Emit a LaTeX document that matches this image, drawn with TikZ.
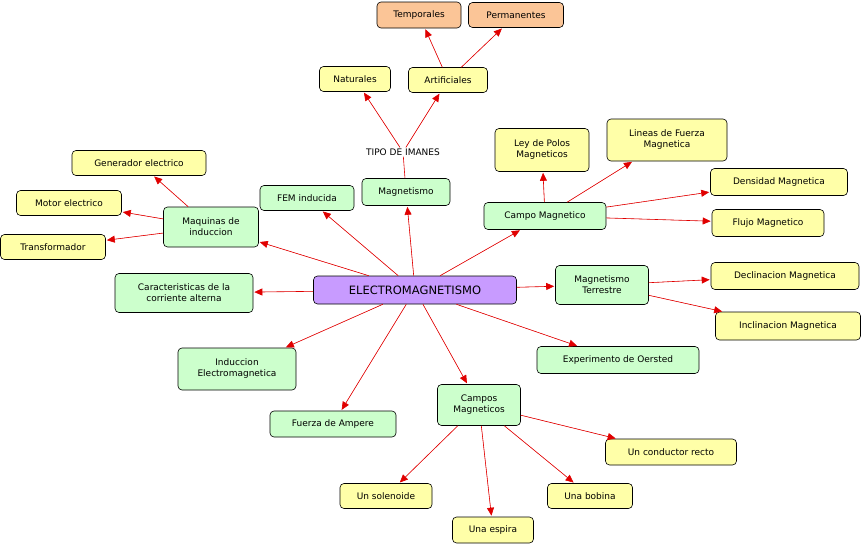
\documentclass[tikz,border=0pt]{standalone}
\usepackage{fontspec}
\setmainfont{DejaVu Sans}
\usetikzlibrary{arrows.meta}
\definecolor{yel}{HTML}{FFFFA8}
\definecolor{grn}{HTML}{CCFFCC}
\definecolor{org}{HTML}{FBC597}
\definecolor{pur}{HTML}{C89BFF}
\definecolor{ered}{HTML}{E00000}
\tikzset{
 bx/.style={draw=black,rounded corners=4pt,align=center,font=\fontsize{9}{11}\selectfont,inner sep=0pt,line width=0.6pt},
 ybox/.style={bx,fill=yel},
 gbox/.style={bx,fill=grn},
 obox/.style={bx,fill=org},
 ar/.style={draw=ered,line width=0.6pt,-{Triangle[length=8pt,width=7pt]},shorten >=1pt,fill=ered},
}
\begin{document}
\begin{tikzpicture}[x=1pt,y=-1pt]
\useasboundingbox (0,0) rectangle (863,546);
\node[obox,minimum width=84,minimum height=26] (tem) at (419,15) {Temporales};
\node[obox,minimum width=95,minimum height=25] (per) at (516,15) {Permanentes};
\node[ybox,minimum width=71,minimum height=25] (nat) at (355,79) {Naturales};
\node[ybox,minimum width=79,minimum height=25] (art) at (448,80) {Artificiales};
\node[font=\fontsize{9}{11}\selectfont,inner sep=1pt] (tip) at (403,152) {TIPO DE IMANES};
\node[ybox,minimum width=94,minimum height=43] (ley) at (542,150) {Ley de Polos\\Magneticos};
\node[ybox,minimum width=120,minimum height=42] (lin) at (667,140) {Lineas de Fuerza\\Magnetica};
\node[ybox,minimum width=134,minimum height=25] (gen) at (139,163) {Generador electrico};
\node[ybox,minimum width=105,minimum height=25] (mot) at (69,203) {Motor electrico};
\node[ybox,minimum width=105,minimum height=25] (tra) at (53,247) {Transformador};
\node[gbox,minimum width=95,minimum height=40] (maq) at (211,227) {Maquinas de\\induccion};
\node[gbox,minimum width=94,minimum height=25] (fem) at (307,198) {FEM inducida};
\node[gbox,minimum width=88,minimum height=27] (mag) at (406,192) {Magnetismo};
\node[gbox,minimum width=122,minimum height=27] (cam) at (545,216) {Campo Magnetico};
\node[ybox,minimum width=137,minimum height=27] (den) at (779,182) {Densidad Magnetica};
\node[ybox,minimum width=112,minimum height=27] (flu) at (768,223) {Flujo Magnetico};
\node[gbox,minimum width=138,minimum height=39] (car) at (184,293) {Caracteristicas de la\\corriente alterna};
\node[bx,fill=pur,minimum width=203,minimum height=28,font=\fontsize{11.5}{13}\selectfont] (ele) at (415,290) {ELECTROMAGNETISMO};
\node[gbox,minimum width=93,minimum height=39] (ter) at (602,285) {Magnetismo\\Terrestre};
\node[ybox,minimum width=148,minimum height=27] (dec) at (785,276) {Declinacion Magnetica};
\node[ybox,minimum width=145,minimum height=28] (inc) at (788,326) {Inclinacion Magnetica};
\node[gbox,minimum width=118,minimum height=42] (ind) at (237,369) {Induccion\\Electromagnetica};
\node[gbox,minimum width=162,minimum height=27] (oer) at (618,360) {Experimento de Oersted};
\node[gbox,minimum width=83,minimum height=41] (cms) at (479,405) {Campos\\Magneticos};
\node[gbox,minimum width=126,minimum height=26] (amp) at (333,424) {Fuerza de Ampere};
\node[ybox,minimum width=131,minimum height=26] (con) at (671,452) {Un conductor recto};
\node[ybox,minimum width=92,minimum height=25] (sol) at (386,496) {Un solenoide};
\node[ybox,minimum width=85,minimum height=25] (bob) at (590,496) {Una bobina};
\node[ybox,minimum width=81,minimum height=26] (esp) at (493,530) {Una espira};
% edges
\draw[draw=ered,line width=0.6pt] (mag) -- (tip);
\draw[ar] (tip) -- (nat);
\draw[ar] (tip) -- (art);
\draw[ar] (art) -- (tem);
\draw[ar] (art) -- (per);
\draw[ar] (ele) -- (mag);
\draw[ar] (ele) -- (fem);
\draw[ar] (ele) -- (maq);
\draw[ar] (ele) -- (car);
\draw[ar] (ele) -- (ind);
\draw[ar] (ele) -- (amp);
\draw[ar] (ele) -- (cms);
\draw[ar] (ele) -- (oer);
\draw[ar] (ele) -- (ter);
\draw[ar] (ele) -- (cam);
\draw[ar] (maq) -- (gen);
\draw[ar] (maq) -- (mot);
\draw[ar] (maq) -- (tra);
\draw[ar] (cam) -- (ley);
\draw[ar] (cam) -- (lin);
\draw[ar] (cam) -- (den);
\draw[ar] (cam) -- (flu);
\draw[ar] (ter) -- (dec);
\draw[ar] (ter) -- (inc);
\draw[ar] (cms) -- (con);
\draw[ar] (cms) -- (sol);
\draw[ar] (cms) -- (bob);
\draw[ar] (cms) -- (esp);
\end{tikzpicture}
\end{document}
